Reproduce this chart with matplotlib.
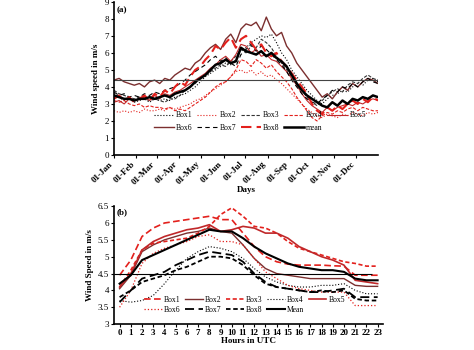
import numpy as np
import matplotlib.pyplot as plt

plt.rcParams['font.family'] = ['Liberation Serif', 'DejaVu Serif']

# ---- panel (a): daily wind speed, read off roughly once a week ----
days = np.arange(0, 365, 7) + 1
box1_a = [3.6, 3.4, 3.2, 3.3, 3.1, 3.2, 3.3, 3.1, 3.3, 3.2, 3.3, 3.2, 3.4,
          3.5, 3.6, 3.8, 4.0, 4.3, 4.6, 4.8, 5.0, 5.2, 5.4, 5.3, 5.6, 6.2,
          6.3, 6.6, 6.8, 7.0, 6.9, 7.1, 6.6, 6.0, 5.6, 5.0, 4.6, 4.2, 3.8,
          3.5, 3.2, 3.0, 3.3, 3.5, 3.6, 3.8, 3.7, 4.0, 4.2, 4.1, 4.4, 4.5, 4.3]
box2_a = [2.6, 2.5, 2.6, 2.5, 2.6, 2.5, 2.7, 2.6, 2.6, 2.7, 2.6, 2.8, 2.7,
          2.8, 2.9, 3.0, 3.2, 3.3, 3.5, 3.7, 3.9, 4.1, 4.3, 4.6, 4.9, 5.0,
          4.8, 5.0, 4.7, 4.9, 4.6, 4.7, 4.4, 4.2, 3.9, 3.6, 3.3, 3.0, 2.7,
          2.5, 2.3, 2.2, 2.4, 2.3, 2.2, 2.4, 2.3, 2.5, 2.4, 2.3, 2.5, 2.4, 2.5]
box3_a = [3.8, 3.6, 3.5, 3.4, 3.3, 3.4, 3.3, 3.2, 3.3, 3.2, 3.1, 3.3, 3.3,
          3.5, 3.8, 4.0, 4.2, 4.5, 4.7, 4.9, 5.1, 5.3, 5.2, 5.5, 5.8, 6.2,
          6.0, 6.4, 6.3, 6.8, 6.6, 6.3, 5.8, 5.4, 5.0, 4.6, 4.2, 3.8, 3.4,
          3.1, 2.9, 3.2, 3.5, 3.7, 3.9, 3.7, 4.1, 4.3, 4.2, 4.5, 4.7, 4.5, 4.4]
box4_a = [3.2, 3.1, 3.2, 3.0, 2.9, 3.0, 2.8, 2.9, 2.8, 2.8, 2.7, 2.8, 2.6,
          2.7, 2.6, 2.8, 3.0, 3.2, 3.4, 3.7, 4.0, 4.2, 4.3, 4.6, 5.0, 5.6,
          5.5, 5.2, 5.6, 5.4, 5.1, 5.3, 4.9, 4.6, 4.3, 3.9, 3.4, 3.0, 2.6,
          2.2, 2.0, 2.3, 2.5, 2.4, 2.6, 2.5, 2.7, 2.8, 2.6, 2.8, 2.7, 2.6, 2.6]
box5_a = [3.1, 3.2, 3.0, 3.3, 3.2, 3.3, 3.4, 3.2, 3.5, 3.3, 3.6, 3.5, 3.7,
          3.8, 4.0, 4.2, 4.4, 4.6, 4.8, 5.1, 5.3, 5.6, 5.8, 5.5, 5.9, 6.5,
          6.4, 6.0, 6.2, 5.8, 5.9, 5.6, 5.5, 5.2, 4.9, 4.5, 4.1, 3.6, 3.2,
          2.9, 2.7, 2.5, 2.8, 2.6, 2.8, 2.9, 3.0, 2.9, 3.1, 3.0, 3.2, 3.3, 3.2]
box6_a = [4.4, 4.5, 4.3, 4.2, 4.1, 4.2, 4.0, 4.3, 4.4, 4.2, 4.5, 4.4, 4.7,
          4.9, 5.1, 5.0, 5.4, 5.6, 6.0, 6.3, 6.5, 6.2, 6.8, 7.1, 6.6, 7.4,
          7.7, 7.6, 7.8, 7.3, 8.1, 7.4, 7.0, 7.2, 6.4, 6.0, 5.4, 5.0, 4.6,
          4.2, 3.8, 3.4, 3.6, 3.3, 3.7, 4.0, 3.8, 4.2, 4.0, 4.3, 4.5, 4.4, 4.2]
box7_a = [3.7, 3.5, 3.6, 3.4, 3.5, 3.4, 3.6, 3.5, 3.7, 3.6, 3.8, 3.9, 4.0,
          4.2, 4.4, 4.7, 4.9, 5.1, 5.3, 5.6, 5.8, 5.5, 5.7, 5.4, 5.2, 5.9,
          6.2, 6.5, 6.1, 6.4, 6.2, 5.9, 5.6, 5.3, 4.9, 4.4, 4.0, 3.6, 3.3,
          3.1, 3.0, 3.3, 3.5, 3.8, 3.7, 4.0, 3.9, 4.2, 4.0, 4.3, 4.5, 4.3, 4.2]
box8_a = [3.3, 3.5, 3.2, 3.4, 3.1, 3.3, 3.5, 3.2, 3.6, 3.4, 3.8, 3.6, 4.0,
          4.3, 4.1, 4.6, 5.0, 5.2, 5.6, 5.9, 6.4, 6.2, 6.6, 6.9, 6.3, 6.8,
          7.0, 6.6, 6.2, 6.5, 6.0, 5.8, 6.0, 5.5, 5.2, 4.8, 4.4, 4.0, 3.6,
          3.0, 2.6, 2.4, 2.8, 2.6, 2.9, 2.7, 3.0, 3.2, 3.0, 3.3, 3.1, 3.4, 3.2]
mean_a = [3.5, 3.4, 3.3, 3.3, 3.2, 3.3, 3.3, 3.4, 3.3, 3.4, 3.5, 3.4, 3.6,
          3.7, 3.8, 4.0, 4.3, 4.5, 4.7, 5.0, 5.3, 5.4, 5.6, 5.4, 5.5, 6.3,
          6.1, 6.0, 5.9, 6.1, 5.8, 6.0, 5.7, 5.5, 5.2, 4.7, 4.2, 3.8, 3.5,
          3.3, 3.1, 2.9, 2.8, 3.1, 2.9, 3.2, 3.0, 3.3, 3.2, 3.4, 3.3, 3.5, 3.4]
month_days = [1, 32, 60, 91, 121, 152, 182, 213, 244, 274, 305, 335]
month_labels = ['01-Jan', '01-Feb', '01-Mar', '01-Apr', '01-May', '01-Jun',
                '01-Jul', '01-Aug', '01-Sep', '01-Oct', '01-Nov', '01-Dec']
ref_a = 4.4

# ---- panel (b): mean diurnal cycle ----
hours = np.arange(24)
box1_b = [4.45, 4.9, 5.6, 5.85, 6.0, 6.05, 6.1, 6.15, 6.2, 6.1, 6.1, 5.7,
          5.3, 5.0, 4.85, 4.78, 4.75, 4.75, 4.75, 4.73, 4.72, 4.45, 4.45, 4.45]
box2_b = [4.05, 4.45, 5.15, 5.35, 5.5, 5.6, 5.7, 5.75, 5.85, 5.75, 5.7, 5.35,
          4.95, 4.65, 4.5, 4.45, 4.4, 4.35, 4.35, 4.35, 4.35, 4.15, 4.12, 4.12]
box3_b = [4.1, 4.6, 5.2, 5.4, 5.45, 5.5, 5.55, 5.7, 5.9, 6.25, 6.45, 6.2,
          5.9, 5.85, 5.7, 5.45, 5.25, 5.15, 5.05, 4.95, 4.85, 4.8, 4.72, 4.72]
box4_b = [3.7, 3.65, 3.7, 3.85, 4.2, 4.6, 4.95, 5.15, 5.3, 5.25, 5.15, 4.95,
          4.65, 4.4, 4.25, 4.15, 4.1, 4.1, 4.15, 4.15, 4.2, 4.0, 3.9, 3.9]
box5_b = [4.1, 4.5, 5.2, 5.45, 5.6, 5.7, 5.8, 5.85, 5.95, 5.75, 5.8, 5.9,
          5.85, 5.7, 5.7, 5.55, 5.3, 5.15, 5.0, 4.9, 4.75, 4.3, 4.25, 4.2]
box6_b = [3.5, 4.0, 4.8, 5.1, 5.25, 5.35, 5.45, 5.6, 5.65, 5.45, 5.45, 5.35,
          4.95, 4.55, 4.35, 4.15, 4.05, 4.0, 3.95, 3.95, 3.95, 3.55, 3.55, 3.55]
box7_b = [3.65, 4.0, 4.35, 4.45, 4.55, 4.75, 4.9, 5.05, 5.15, 5.1, 5.05, 4.85,
          4.5, 4.25, 4.1, 4.05, 4.0, 3.95, 3.95, 4.0, 4.05, 3.8, 3.8, 3.8]
box8_b = [3.8, 4.0, 4.25, 4.35, 4.45, 4.6, 4.7, 4.85, 5.0, 5.0, 4.95, 4.75,
          4.45, 4.2, 4.1, 4.05, 4.0, 3.95, 4.0, 3.95, 4.0, 3.75, 3.7, 3.7]
mean_b = [4.2, 4.45, 4.9, 5.05, 5.2, 5.35, 5.5, 5.65, 5.8, 5.75, 5.75, 5.55,
          5.3, 5.1, 4.95, 4.8, 4.7, 4.65, 4.6, 4.6, 4.55, 4.35, 4.3, 4.3]
ref_b = 4.5

red = '#e3201c'
dred = '#c0282a'
brown = '#7b2f2f'


def row_legend(ax, **kw):
    # matplotlib fills legend columns first; reorder so rows read Box1..Box5
    h, l = ax.get_legend_handles_labels()
    order = [0, 5, 1, 6, 2, 7, 3, 8, 4]
    ax.legend([h[i] for i in order], [l[i] for i in order], ncol=5,
              loc='lower left', frameon=False, borderaxespad=0, **kw)


fig = plt.figure(figsize=(4.74, 3.5), dpi=100)
ax1 = fig.add_axes([0.2405, 0.557, 0.557, 0.438])
ax2 = fig.add_axes([0.2405, 0.074, 0.568, 0.337])

# panel (a)
ax1.plot(days, box1_a, color='black', ls=':', lw=0.8, label='Box1')
ax1.plot(days, box2_a, color=red, ls=':', lw=0.8, label='Box2')
ax1.plot(days, box3_a, color='#333333', ls=(0, (3, 1.5)), lw=0.8, label='Box3')
ax1.plot(days, box4_a, color=red, ls=(0, (3, 1.5)), lw=0.8, label='Box4')
ax1.plot(days, box5_a, color=dred, ls='-', lw=0.8, label='Box5')
ax1.plot(days, box6_a, color=brown, ls='-', lw=1.0, label='Box6')
ax1.plot(days, box7_a, color='black', ls=(0, (4, 3)), lw=0.8, label='Box7')
ax1.plot(days, box8_a, color=red, ls=(0, (5, 2.5)), lw=1.5, label='Box8')
ax1.plot(days, mean_a, color='black', ls='-', lw=1.8, label='mean')
ax1.axhline(ref_a, color='#444444', lw=0.8)
ax1.set_xlim(1, 365)
ax1.set_ylim(0, 9)
ax1.set_xticks(month_days)
ax1.set_xticklabels(month_labels, rotation=45, ha='right', fontweight='bold')
ax1.set_yticks(range(10))
ax1.set_xlabel('Days', fontsize=6.5, fontweight='bold', labelpad=0)
ax1.set_ylabel('Wind speed in m/s', fontsize=6.5, fontweight='bold', labelpad=3)
ax1.text(0.01, 0.97, '(a)', transform=ax1.transAxes, fontsize=6.5,
         fontweight='bold', va='top')
row_legend(ax1, bbox_to_anchor=(0.14, 0.13), fontsize=5.5, handlelength=2.6,
           columnspacing=0.6, handletextpad=0.3, labelspacing=0.6)

# panel (b)
ax2.plot(hours, box1_b, color=red, ls=(0, (4, 2)), lw=1.2, label='Box1')
ax2.plot(hours, box2_b, color=brown, ls='-', lw=1.0, label='Box2')
ax2.plot(hours, box3_b, color=red, ls=(0, (2.5, 1.5)), lw=1.2, label='Box3')
ax2.plot(hours, box4_b, color='black', ls=':', lw=0.8, label='Box4')
ax2.plot(hours, box5_b, color=dred, ls='-', lw=1.2, label='Box5')
ax2.plot(hours, box6_b, color=red, ls=':', lw=0.9, label='Box6')
ax2.plot(hours, box7_b, color='black', ls=(0, (5, 2.5)), lw=1.3, label='Box7')
ax2.plot(hours, box8_b, color='black', ls=(0, (2.5, 1.5)), lw=1.3, label='Box8')
ax2.plot(hours, mean_b, color='black', ls='-', lw=1.5, label='Mean')
ax2.hlines(ref_b, -0.5, 22.5, color='black', lw=0.8)
ax2.set_xlim(-0.5, 23.5)
ax2.set_ylim(3, 6.5)
ax2.set_xticks(hours)
ax2.set_yticks(np.arange(3, 6.51, 0.5))
ax2.set_yticklabels(['3', '3.5', '4', '4.5', '5', '5.5', '6', '6.5'])
for lab in ax2.get_xticklabels():
    lab.set_fontweight('bold')
ax2.set_xlabel('Hours in UTC', fontsize=6.5, fontweight='bold', labelpad=0)
ax2.set_ylabel('Wind Speed in m/s', fontsize=6.5, fontweight='bold', labelpad=3)
ax2.text(0.01, 0.98, '(b)', transform=ax2.transAxes, fontsize=6.5,
         fontweight='bold', va='top')
row_legend(ax2, bbox_to_anchor=(0.1, 0.06), fontsize=5.5, handlelength=2.3,
           columnspacing=0.6, handletextpad=0.3, labelspacing=0.25)

for ax in (ax1, ax2):
    ax.spines['top'].set_visible(False)
    ax.spines['right'].set_visible(False)
    ax.spines['left'].set_linewidth(1.2)
    ax.spines['bottom'].set_linewidth(1.2)
    ax.tick_params(labelsize=6.5, length=2, width=0.8, pad=1.5)

fig.savefig('out.png', dpi=100)
